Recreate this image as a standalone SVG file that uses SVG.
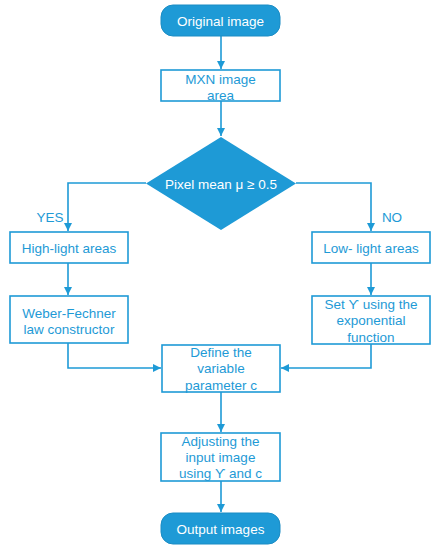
<svg xmlns="http://www.w3.org/2000/svg" width="438" height="550" viewBox="0 0 438 550">
<defs>
<style>
.box{fill:#fff;stroke:#1E9AD6;stroke-width:1.6}
.term{fill:#1E9AD6;stroke:#1B8CC4;stroke-width:1}
.t{font-family:"Liberation Sans",Arial,sans-serif;font-size:13.5px;fill:#1E9AD6;text-anchor:middle}
.w{fill:#fff}
.c{fill:none;stroke:#1E9AD6;stroke-width:1.6}
</style>
<marker id="ah" viewBox="0 0 10 10" refX="10" refY="5" markerWidth="5" markerHeight="5" orient="auto" markerUnits="strokeWidth">
<path d="M0,0L10,5L0,10z" fill="#1E9AD6"/>
</marker>
</defs>
<rect width="438" height="550" fill="#fff"/>
<g id="connectors">
<path class="c" d="M221,36V69" marker-end="url(#ah)"/>
<path class="c" d="M221,101V136" marker-end="url(#ah)"/>
<path class="c" d="M146,183H68V231" marker-end="url(#ah)"/>
<path class="c" d="M296,183H371V231" marker-end="url(#ah)"/>
<path class="c" d="M68,263V295" marker-end="url(#ah)"/>
<path class="c" d="M371,263V295" marker-end="url(#ah)"/>
<path class="c" d="M68,343V368H161" marker-end="url(#ah)"/>
<path class="c" d="M371,344V368H281" marker-end="url(#ah)"/>
<path class="c" d="M221,392V432" marker-end="url(#ah)"/>
<path class="c" d="M221,481V512" marker-end="url(#ah)"/>
</g>
<g id="original">
<rect class="term" x="161" y="5" width="119" height="31" rx="12"/>
<text class="t w" x="220.5" y="25.5">Original image</text>
</g>
<g id="mxn">
<rect class="box" x="161" y="70" width="119" height="31"/>
<text class="t" x="220.5" y="84">MXN image</text>
<text class="t" x="220.5" y="99.5">area</text>
</g>
<g id="decision">
<polygon points="221,137 296,183.5 221,230 146,183.5" fill="#1E9AD6"/>
<text class="t w" x="221" y="188.5">Pixel mean μ ≥ 0.5</text>
</g>
<g id="labels">
<text class="t" x="50" y="221.5">YES</text>
<text class="t" x="392" y="221.5">NO</text>
</g>
<g id="high">
<rect class="box" x="10" y="232" width="118" height="31"/>
<text class="t" x="69" y="252.5">High-light areas</text>
</g>
<g id="low">
<rect class="box" x="312" y="232" width="118" height="31"/>
<text class="t" x="371" y="252.5">Low- light areas</text>
</g>
<g id="weber">
<rect class="box" x="10" y="296" width="118" height="47"/>
<text class="t" x="69" y="317.5">Weber-Fechner</text>
<text class="t" x="69" y="333.5">law constructor</text>
</g>
<g id="sety">
<rect class="box" x="312" y="296" width="118" height="48"/>
<text class="t" x="371" y="308.5">Set ϒ using the</text>
<text class="t" x="371" y="325">exponential</text>
<text class="t" x="371" y="341.5">function</text>
</g>
<g id="define">
<rect class="box" x="162" y="345" width="118" height="47"/>
<text class="t" x="221" y="356.5">Define the</text>
<text class="t" x="221" y="373">variable</text>
<text class="t" x="221" y="389.5">parameter c</text>
</g>
<g id="adjust">
<rect class="box" x="161" y="433" width="119" height="48"/>
<text class="t" x="220.5" y="445.5">Adjusting the</text>
<text class="t" x="220.5" y="461.5">input image</text>
<text class="t" x="220.5" y="477.5">using ϒ and c</text>
</g>
<g id="output">
<rect class="term" x="161" y="513" width="119" height="31" rx="12"/>
<text class="t w" x="220.5" y="533.5">Output images</text>
</g>
</svg>
